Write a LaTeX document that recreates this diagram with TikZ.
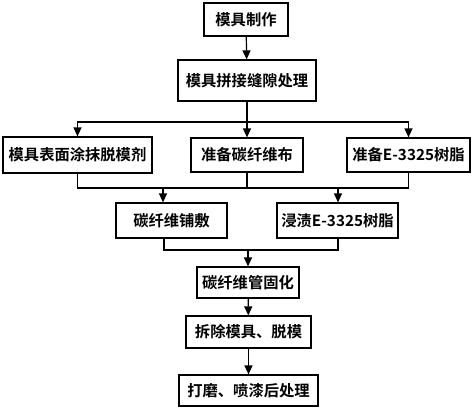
\documentclass[tikz,border=0pt]{standalone}
\usepackage{fontspec}
\newfontfamily\cjk{Noto Sans CJK SC}[BoldFont={Noto Sans CJK SC Bold}]
\usetikzlibrary{arrows.meta}
\begin{document}
\begin{tikzpicture}[x=1pt,y=-1pt,
  box/.style={draw,line width=1.2pt,rectangle,inner sep=0pt,font=\cjk\bfseries\fontsize{15.3}{17}\selectfont},
  conn/.style={line width=1.2pt},
  arr/.style={line width=1.2pt,-{Triangle[width=8pt,length=9pt]}}]
\useasboundingbox (0,0) rectangle (474,412);
\node[box,minimum width=84pt,minimum height=33pt] (b1) at (246,19.5) {模具制作};
\node[box,minimum width=138pt,minimum height=41pt] (b2) at (247,80.5) {模具拼接缝隙处理};
\node[box,minimum width=149pt,minimum height=36pt] (b3) at (77.5,155) {模具表面涂抹脱模剂};
\node[box,minimum width=112pt,minimum height=34pt] (b4) at (247,155) {准备碳纤维布};
\node[box,minimum width=123pt,minimum height=34pt] (b5) at (408.5,155) {准备E-3325树脂};
\node[box,minimum width=111pt,minimum height=35pt] (b6) at (171.5,220.5) {碳纤维铺敷};
\node[box,minimum width=121pt,minimum height=35pt] (b7) at (337.5,220.5) {浸渍E-3325树脂};
\node[box,minimum width=102pt,minimum height=31pt] (b8) at (248,282.5) {碳纤维管固化};
\node[box,minimum width=125pt,minimum height=32pt] (b9) at (248.5,332) {拆除模具、脱模};
\node[box,minimum width=139pt,minimum height=31pt] (b10) at (248.5,390.5) {打磨、喷漆后处理};
% step 1 -> 2
\draw[arr] (b1) -- (b2);
% split to three
\coordinate (j1) at (247,122);
\draw[conn] (b2.south) -- (j1);
\draw[arr] (j1) -| (b3.north);
\draw[arr] (j1) -- (b4.north);
\draw[arr] (j1) -| (b5.north);
% merge row
\coordinate (j2) at (247,188);
\draw[conn] (b3.south) |- (j2);
\draw[conn] (b4.south) -- (j2);
\draw[conn] (b5.south) |- (j2);
\coordinate (j2a) at (163,188);
\coordinate (j2b) at (338,188);
\draw[arr] (j2a) -- (j2a |- b6.north);
\draw[arr] (j2b) -- (j2b |- b7.north);
% merge to cure
\coordinate (j3a) at (164,250);
\coordinate (j3b) at (338,250);
\coordinate (j3) at (248,250);
\draw[conn] (j3a |- b6.south) -- (j3a) -- (j3b) -- (j3b |- b7.south);
\draw[arr] (j3) -- (b8.north);
\draw[arr] (b8) -- (b9);
\draw[arr] (b9) -- (b10);
\end{tikzpicture}
\end{document}
